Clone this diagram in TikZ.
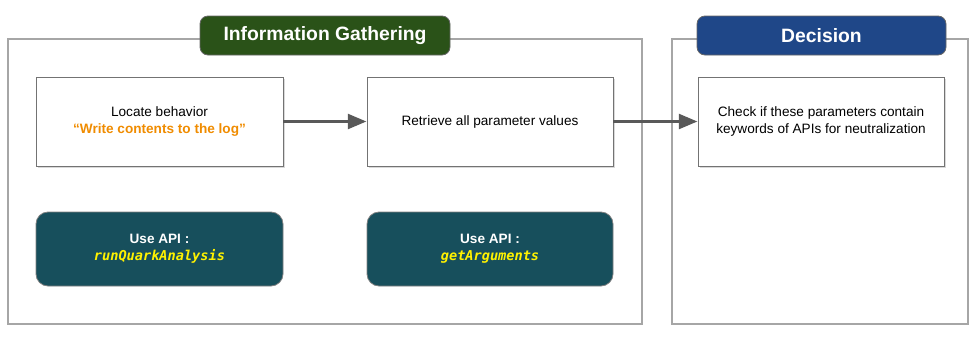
\documentclass[tikz,border=0pt]{standalone}
\usepackage{fontspec}
\setmainfont{Liberation Sans}
\newfontfamily\apimono{DejaVu Sans Mono}
\usetikzlibrary{shadows,arrows.meta}
\definecolor{frameg}{HTML}{A6A6A6}
\definecolor{titleg}{HTML}{2A5218}
\definecolor{titleb}{HTML}{1F4788}
\definecolor{apibg}{HTML}{174F5C}
\definecolor{orangetxt}{HTML}{F08C00}
\definecolor{arrowc}{HTML}{595959}
\tikzset{
  frame/.style={draw=frameg, line width=1.5pt},
  titlebox/.style={rounded corners=6pt, draw=black!60, line width=0.6pt, text=white, font=\fontsize{14.5}{18}\selectfont\bfseries},
  stepbox/.style={draw=black!55, line width=0.7pt, fill=white, drop shadow={shadow xshift=1.5pt, shadow yshift=-1.5pt, opacity=0.3}, align=center, font=\fontsize{10.2}{13}\selectfont},
  apibox/.style={rounded corners=9pt, fill=apibg, draw=black!50, line width=0.6pt, align=center, text=white, font=\fontsize{10.2}{13}\selectfont\bfseries},
  flow/.style={draw=arrowc, line width=2.4pt, -{Triangle[length=14pt,width=11pt]}}
}
\begin{document}
\begin{tikzpicture}[x=0.75pt,y=-0.75pt]
\useasboundingbox (0,0) rectangle (980,336);
% frames
\draw[frame] (8,39) rectangle (642,324);
\draw[frame] (672,39) rectangle (968,324);
% titles
\node[titlebox, fill=titleg, minimum width=250*0.75pt, minimum height=39*0.75pt] (tg) at (325,35.5) {Information Gathering};
\node[titlebox, fill=titleb, minimum width=249*0.75pt, minimum height=39*0.75pt] (td) at (821.5,35.5) {Decision};
% step boxes
\node[stepbox, minimum width=247*0.75pt, minimum height=89*0.75pt] (b1) at (159.5,121.5) {Locate behavior\\{\color{orangetxt}\textbf{``Write contents to the log''}}};
\node[stepbox, minimum width=246*0.75pt, minimum height=89*0.75pt] (b2) at (490,121.5) {Retrieve all parameter values};
\node[stepbox, minimum width=246*0.75pt, minimum height=89*0.75pt] (b3) at (821,121.5) {Check if these parameters contain\\keywords of APIs for neutralization};
% api boxes
\node[apibox, minimum width=247*0.75pt, minimum height=74*0.75pt] (a1) at (159.5,249) {Use API :\\{\apimono\bfseries\itshape\color{yellow}runQuarkAnalysis}};
\node[apibox, minimum width=246*0.75pt, minimum height=74*0.75pt] (a2) at (490,249) {Use API :\\{\apimono\bfseries\itshape\color{yellow}getArguments}};
% arrows
\draw[flow] (b1.east) -- (b2.west);
\draw[flow] (b2.east) -- (b3.west);
\end{tikzpicture}
\end{document}
